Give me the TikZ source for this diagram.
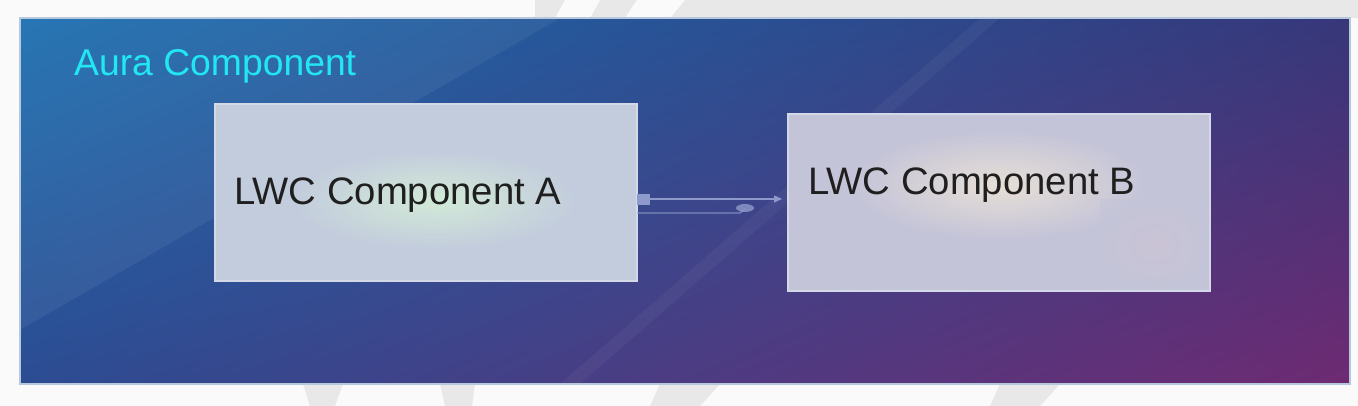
\documentclass[tikz,border=0pt]{standalone}
\usepackage{fontspec}
\setmainfont{Liberation Sans}
\usetikzlibrary{arrows.meta,shadings}
\definecolor{bgpage}{HTML}{FAFAFA}
\definecolor{bggray}{HTML}{E8E8E8}
\definecolor{ulc}{HTML}{1A6EB0}
\definecolor{urc}{HTML}{36377A}
\definecolor{llc}{HTML}{2C4C92}
\definecolor{lrc}{HTML}{6E2A72}
\definecolor{boxfill}{HTML}{C3CCDD}
\definecolor{boxfillb}{HTML}{C4C4D8}
\definecolor{boxedge}{HTML}{D3D9E6}
\definecolor{paneledge}{HTML}{B8C8DC}
\definecolor{auracyan}{HTML}{22E6F2}
\definecolor{linkc}{HTML}{8E9ACB}
\definecolor{glowa}{HTML}{D6F2D6}
\definecolor{glowb}{HTML}{F0E6D6}
\tikzset{
  compbox/.style={draw=boxedge, line width=1.2pt, minimum width=421pt, minimum height=176pt, anchor=north west, inner sep=0pt},
  complabel/.style={anchor=base west, font=\fontsize{38.3}{42}\selectfont, text=black!88, inner sep=0pt},
  link/.style={draw=linkc, line width=1.3pt},
}
\begin{document}
\begin{tikzpicture}[x=1pt,y=-1pt]
\useasboundingbox (0,0) rectangle (1358,406);
\fill[bgpage] (0,0) rectangle (1358,406);
% faint background shapes
\fill[bggray] (535,0) -- (1358,0) -- (1358,18) -- (535,18) -- cycle;
\fill[bgpage] (565,0) -- (600,0) -- (590,18) -- (555,18) -- cycle;
\fill[bgpage] (637,0) -- (685,0) -- (670,18) -- (625,18) -- cycle;
\fill[bggray] (303,384) -- (343,384) -- (335,406) -- (310,406) -- cycle;
\fill[bggray] (440,384) -- (475,384) -- (472,406) -- (445,406) -- cycle;
\fill[bggray] (660,384) -- (720,384) -- (700,406) -- (650,406) -- cycle;
\fill[bggray] (1000,384) -- (1060,384) -- (1040,406) -- (990,406) -- cycle;
% main panel
\shade[upper left=ulc, upper right=urc, lower left=llc, lower right=lrc] (20,18) rectangle (1350,384);
\fill[white, opacity=0.06] (20,18) -- (560,18) -- (20,330) -- cycle;
\fill[white, opacity=0.04] (560,384) -- (980,18) -- (1000,18) -- (580,384) -- cycle;
\draw[paneledge, line width=1.4pt] (20,18) rectangle (1350,384);
\node[anchor=base west, font=\fontsize{37.3}{40}\selectfont, text=auracyan, inner sep=0pt] (aura) at (74,76) {Aura Component};
% component boxes
\node[compbox, fill=boxfill] (a) at (215,104) {};
\node[compbox, fill=boxfillb] (b) at (788,114) {};
\shade[inner color=glowa, outer color=boxfill, opacity=0.8] (290,150) rectangle (580,250);
\shade[inner color=glowb, outer color=boxfillb, opacity=0.8] (850,130) rectangle (1150,240);
\shade[inner color=pink!20!boxfillb, outer color=boxfillb, opacity=0.5] (1100,200) rectangle (1209,289);
\draw[boxedge, line width=1.2pt] (a.north west) rectangle (a.south east);
\draw[boxedge, line width=1.2pt] (b.north west) rectangle (b.south east);
\node[complabel] (la) at (234,205) {LWC Component A};
\node[complabel] (lb) at (808,195) {LWC Component B};
% connector
\coordinate (s1) at (a.east |- 0,199);
\coordinate (e1) at (b.west |- 0,199);
\coordinate (s2) at (a.east |- 0,213);
\coordinate (e2) at (740,213);
\fill[linkc] (637,194) rectangle (650,205);
\draw[link, -{Triangle[length=8pt,width=7pt]}] (s1) -- ([xshift=-6pt]e1);
\draw[link, opacity=0.8] (s2) -- (e2) -- (745,209);
\fill[linkc, opacity=0.8] (745,208) ellipse (9pt and 4pt);
\end{tikzpicture}
\end{document}
